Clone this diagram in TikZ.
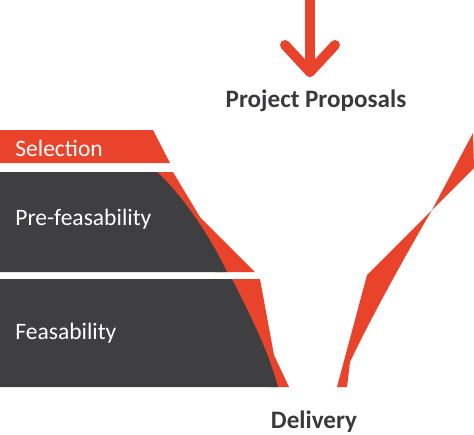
\documentclass[tikz,border=0pt]{standalone}
\usepackage{fontspec}
\setmainfont{Carlito}
\usepackage{xcolor}
\usepackage{tikz}
\definecolor{funnelred}{HTML}{E9432B}
\definecolor{stagegray}{HTML}{3F3F42}
\definecolor{labelgray}{HTML}{3A3A3C}

\begin{document}
\begin{tikzpicture}[x=0.02cm, y=-0.02cm,
  stagetext/.style={anchor=base west, inner sep=0pt, text=white, font=\fontsize{13.4}{15}\selectfont},
  titletext/.style={anchor=base, inner sep=0pt, text=labelgray, font=\fontsize{14.3}{16}\selectfont\bfseries}]
\useasboundingbox (0,0) rectangle (474,434);

% Incoming arrow with round ends
\coordinate (arrtop) at (310,-8);
\coordinate (arrtip) at (310,72);
\coordinate (wingl) at (285,45);
\coordinate (wingr) at (335,45);
\draw[funnelred, line width=0.2cm, line cap=round, line join=round] (arrtop) -- (arrtip);
\draw[funnelred, line width=0.2cm, line cap=round, line join=round] (wingl) -- (arrtip) -- (wingr);

% Titles
\node[titletext] (proposals) at (316,107) {Project Proposals};
\node[titletext] (delivery) at (314,428) {Delivery};

% Selection band
\fill[funnelred] (0,130) -- (153,130) -- (170,163) -- (0,163) -- cycle;
\node[stagetext] (selection) at (15,156) {Selection};

% Red edge behind the stages
\fill[funnelred] (157,172) -- (173,172) -- (200,217) -- (255,272) -- (215,272) -- cycle;
\fill[funnelred] (232,279) -- (260,279) -- (274,355) -- (289,387) -- (270,387) -- cycle;

% Dark stages
\fill[stagegray] (0,172) -- (157,172) .. controls (180,193) and (208,232) .. (227,272) -- (0,272) -- cycle;
\node[stagetext] (prefeas) at (15,225) {Pre-feasability};
\fill[stagegray] (0,279) -- (232,279) .. controls (250,315) and (268,350) .. (278,387) -- (0,387) -- cycle;
\node[stagetext] (feas) at (15,339) {Feasability};

% Right leg of the funnel
\fill[funnelred] (473,133) -- (474,168) -- (432,210) -- (367,275) -- (337,387) -- (347,387) -- (350,362)
  .. controls (370,320) and (400,265) .. (432,210) -- cycle;

\end{tikzpicture}
\end{document}
